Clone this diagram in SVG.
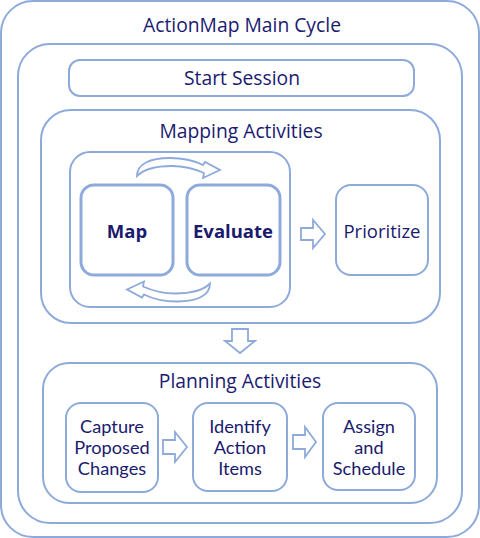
<svg xmlns="http://www.w3.org/2000/svg" width="480" height="538" viewBox="0 0 480 538">
<style>
.b{fill:#fff;stroke:#8eaadb;stroke-width:2}
.bb{fill:#fff;stroke:#8eaadb;stroke-width:3}
.a{fill:#fff;stroke:#8eaadb;stroke-width:1.8;stroke-linejoin:miter}
text{font-family:"Open Sans","Noto Sans",sans-serif;fill:#1a1a6e;text-anchor:middle}
.t{font-size:19.3px}
.n{font-family:Lato,"Open Sans",sans-serif;font-size:18.2px}
.p{font-size:18.5px}
.k{font-size:18.5px;font-weight:bold}
</style>
<rect width="480" height="538" fill="#fff"/>
<g id="main-cycle">
<rect class="b" x="1" y="1" width="478" height="536" rx="32"/>
<text class="t" x="242" y="32">ActionMap Main Cycle</text>
</g>
<g id="inner-cycle">
<rect class="b" x="18" y="44" width="444" height="479" rx="32"/>
</g>
<g id="start-session">
<rect class="b" x="69" y="60" width="345" height="36" rx="11"/>
<text class="t" x="242" y="84.5">Start Session</text>
</g>
<g id="mapping-activities">
<rect class="b" x="41" y="110" width="399" height="213" rx="30"/>
<text class="t" x="241" y="138">Mapping Activities</text>
</g>
<g id="map-evaluate-loop">
<rect class="b" x="70" y="152" width="220" height="155" rx="20"/>
</g>
<g id="map">
<rect class="bb" x="81" y="185" width="92" height="90" rx="13"/>
<text class="k" x="127" y="238">Map</text>
</g>
<g id="evaluate">
<rect class="bb" x="187" y="185" width="93" height="90" rx="13"/>
<text class="k" x="233" y="238">Evaluate</text>
</g>
<g id="prioritize">
<rect class="b" x="336" y="185" width="92" height="90" rx="15"/>
<text class="p" x="382" y="237.5">Prioritize</text>
</g>
<g id="planning-activities">
<rect class="b" x="43" y="363" width="394" height="140" rx="26"/>
<text class="t" x="240" y="388">Planning Activities</text>
</g>
<g id="capture">
<rect class="b" x="66" y="403" width="92" height="89" rx="15"/>
<text class="n" x="112" y="433">Capture</text>
<text class="n" x="112" y="454">Proposed</text>
<text class="n" x="112" y="474.5">Changes</text>
</g>
<g id="identify">
<rect class="b" x="193" y="403" width="94" height="88" rx="15"/>
<text class="n" x="240" y="433">Identify</text>
<text class="n" x="240" y="454">Action</text>
<text class="n" x="240" y="474.5">Items</text>
</g>
<g id="assign">
<rect class="b" x="323" y="403" width="92" height="87" rx="15"/>
<text class="n" x="369" y="433">Assign</text>
<text class="n" x="369" y="454">and</text>
<text class="n" x="369" y="474.5">Schedule</text>
</g>
<g id="connectors">
<path id="loop-top" class="a" d="M137,176 C137,164 150,158 170,158 C185,158 195,161 203,165 L205,162 L220,170 L203,178 L204,173 C195,169 185,166 172,166 C155,166 143,170 137,176 Z"/>
<path id="loop-bottom" class="a" transform="translate(347,459.5) rotate(180)" d="M137,176 C137,164 150,158 170,158 C185,158 195,161 203,165 L205,162 L220,170 L203,178 L204,173 C195,169 185,166 172,166 C155,166 143,170 137,176 Z"/>
<path class="a" d="M301,228 H313 V220 L325,234 L313,248 V240 H301 Z"/>
<path class="a" d="M232,329 H248 V341 H255 L240,353 L225,341 H232 Z"/>
<path class="a" d="M163,440 H175 V432 L187,447 L175,462 V454 H163 Z"/>
<path class="a" d="M293,435 H305 V427 L316,442 L305,457 V449 H293 Z"/>
</g>
</svg>
